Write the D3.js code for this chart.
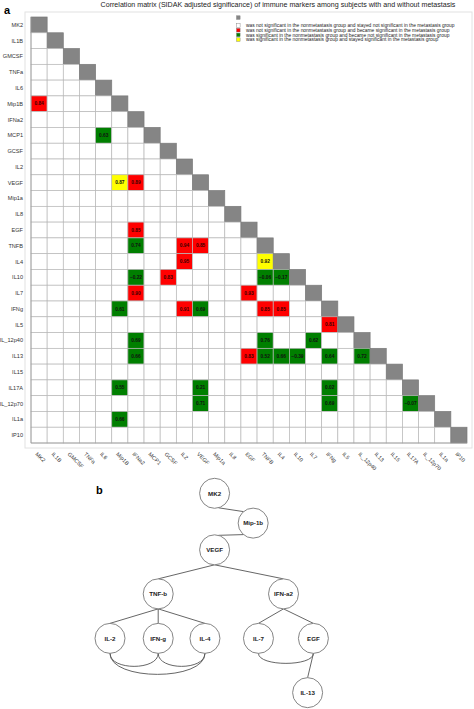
<!DOCTYPE html>
<html>
<head>
<meta charset="utf-8">
<script src="https://cdn.jsdelivr.net/npm/d3@7"></script>
<style>
  body { margin: 0; background: #fff; }
  text { font-family: "Liberation Sans", Arial, sans-serif; }
</style>
</head>
<body>
<svg id="fig" width="474" height="709"></svg>
<script>
// markers in matrix order
var markers = ["MK2","IL1B","GMCSF","TNFa","IL6","Mip1B","IFNa2","MCP1","GCSF","IL2","VEGF",
  "Mip1a","IL8","EGF","TNFB","IL4","IL10","IL7","IFNg","IL5","IL_12p40","IL13","IL15",
  "IL17A","IL_12p70","IL1a","IP10"];

// significant cells: row marker, column marker, correlation, category
var cellRow = ["Mip1B","MCP1","VEGF","VEGF","EGF","TNFB","TNFB","TNFB","IL4","IL4",
  "IL10","IL10","IL10","IL10","IL7","IL7","IFNg","IFNg","IFNg","IFNg","IFNg","IL5",
  "IL_12p40","IL_12p40","IL_12p40","IL13","IL13","IL13","IL13","IL13","IL13","IL13",
  "IL17A","IL17A","IL17A","IL_12p70","IL_12p70","IL_12p70","IL1a"];
var cellCol = ["MK2","IL6","Mip1B","IFNa2","IFNa2","IFNa2","IL2","VEGF","IL2","TNFB",
  "IFNa2","GCSF","TNFB","IL4","IFNa2","EGF","Mip1B","IL2","VEGF","TNFB","IL4","IFNg",
  "IFNa2","TNFB","IL7","IFNa2","EGF","TNFB","IL4","IL10","IFNg","IL_12p40",
  "Mip1B","VEGF","IFNg","VEGF","IFNg","IL17A","Mip1B"];
var cellValue = [0.84,0.63,0.87,0.89,0.85,0.74,0.94,0.85,0.95,0.92,
  -0.22,0.83,-0.06,-0.17,0.90,0.93,0.61,0.91,0.69,0.85,0.85,0.81,
  0.69,0.76,0.62,0.66,0.83,0.52,0.66,-0.39,0.64,0.72,
  0.55,0.21,0.02,0.71,0.69,-0.07,0.66];
var cellType = ["red","green","yellow","red","red","green","red","red","red","yellow",
  "green","red","green","green","red","red","green","red","green","red","red","red",
  "green","green","green","green","red","green","green","green","green","green",
  "green","green","green","green","green","green","green"];

var legendKeys = ["diag","white","red","green","yellow"];
var legendLabels = ["",
  "was not significant in the nonmetastasis group and stayed not significant in the metastasis group",
  "was not significant in the nonmetastasis group and became significant in the metastasis group",
  "was significant in the nonmetastasis group and became not significant in the metastasis group",
  "was significant in the nonmetastasis group and stayed significant in the metastasis group"];

// network (panel b): layout units
var treeNodes = [
  {id:"MK2", gx:2.17, gy:0},
  {id:"Mip-1b", gx:2.97, gy:0.67},
  {id:"VEGF", gx:2.17, gy:1.27},
  {id:"TNF-b", gx:1.0, gy:2.26},
  {id:"IFN-a2", gx:3.6, gy:2.26},
  {id:"IL-2", gx:0, gy:3.26},
  {id:"IFN-g", gx:1.0, gy:3.26},
  {id:"IL-4", gx:1.97, gy:3.26},
  {id:"IL-7", gx:3.08, gy:3.26},
  {id:"EGF", gx:4.22, gy:3.26},
  {id:"IL-13", gx:4.1, gy:4.48}
];
var treeLinks = [
  ["MK2","Mip-1b","side"],["Mip-1b","VEGF","side"],
  ["VEGF","TNF-b","tree"],["VEGF","IFN-a2","tree"],
  ["TNF-b","IL-2","tree"],["TNF-b","IFN-g","tree"],["TNF-b","IL-4","tree"],
  ["IFN-a2","IL-7","tree"],["IFN-a2","EGF","tree"],["EGF","IL-13","tree"],
  ["IL-2","IFN-g","arc"],["IFN-g","IL-4","arc"],["IL-2","IL-4","arcWide"],["IL-7","EGF","arcSmall"]
];

var fills = {diag:"#858585", white:"#ffffff", red:"#ff0000", green:"#007f00", yellow:"#ffff00"};

var svg = d3.select("#fig");

// ---- panel a ----
svg.append("text").attr("x", 4).attr("y", 14).attr("font-size", 11).attr("font-weight", "bold").text("a");
svg.append("text").attr("x", 278).attr("y", 7).attr("text-anchor", "middle")
  .attr("font-size", 7.1).attr("fill", "#222")
  .text("Correlation matrix (SIDAK adjusted significance) of immune markers among subjects with and without metastasis");

svg.append("rect").attr("x", 25).attr("y", 12).attr("width", 447).attr("height", 436)
  .attr("fill", "#fff").attr("stroke", "#e2e2e2").attr("stroke-width", 1);

var x = d3.scaleBand().domain(markers).range([31, 467]);
var y = d3.scaleBand().domain(markers).range([17, 443]);

var lookup = {};
cellRow.forEach(function(r, i) {
  lookup[r + "|" + cellCol[i]] = {v: cellValue[i], t: cellType[i]};
});

var grid = [];
markers.forEach(function(r, i) {
  markers.forEach(function(c, j) {
    if (j > i) return;
    var hit = lookup[r + "|" + c];
    grid.push({r: r, c: c, t: i === j ? "diag" : (hit ? hit.t : "white"), v: hit ? hit.v : null});
  });
});

var g = svg.append("g");
g.selectAll("rect.cell").data(grid).enter().append("rect")
  .attr("class", "cell")
  .attr("x", function(d) { return x(d.c); })
  .attr("y", function(d) { return y(d.r); })
  .attr("width", x.bandwidth())
  .attr("height", y.bandwidth())
  .attr("fill", function(d) { return fills[d.t]; })
  .attr("stroke", function(d) { return d.t === "diag" ? "#7a7a7a" : "#b8b8b8"; })
  .attr("stroke-width", 0.7);

var fmt = d3.format(".2f");
g.selectAll("text.val").data(grid.filter(function(d) { return d.v !== null; })).enter().append("text")
  .attr("class", "val")
  .attr("x", function(d) { return x(d.c) + x.bandwidth() / 2; })
  .attr("y", function(d) { return y(d.r) + y.bandwidth() / 2 + 1.7; })
  .attr("text-anchor", "middle")
  .attr("font-size", 4.8).attr("font-weight", "bold")
  .attr("fill", function(d) { return d.t === "red" ? "#3a0000" : "#111"; })
  .text(function(d) { return fmt(d.v); });

// frame lines
g.append("line").attr("x1", 31).attr("x2", 31).attr("y1", 17).attr("y2", 443).attr("stroke", "#999").attr("stroke-width", 0.8);
g.append("line").attr("x1", 31).attr("x2", 467).attr("y1", 443).attr("y2", 443).attr("stroke", "#999").attr("stroke-width", 0.8);

// row labels
svg.append("g").selectAll("text").data(markers).enter().append("text")
  .attr("x", 23)
  .attr("y", function(d) { return y(d) + y.bandwidth() / 2 + 2; })
  .attr("text-anchor", "end").attr("font-size", 5.6).attr("fill", "#333")
  .text(function(d) { return d; });

// column labels
svg.append("g").selectAll("text").data(markers).enter().append("text")
  .attr("transform", function(d) { return "translate(" + (x(d) + x.bandwidth() / 2 - 4) + ",454.5) rotate(45)"; })
  .attr("font-size", 5.5).attr("fill", "#333")
  .text(function(d) { return d; });

// legend
var leg = svg.append("g").selectAll("g").data(legendKeys).enter().append("g")
  .attr("transform", function(d, i) { return "translate(236.5," + (i === 0 ? 17.6 : 20.8 + i * 4.7) + ")"; });
leg.append("rect").attr("x", 0).attr("y", -1.8).attr("width", 3.6).attr("height", 3.6)
  .attr("fill", function(d) { return fills[d]; }).attr("stroke", "#777").attr("stroke-width", 0.4);
leg.append("text").attr("x", 9.5).attr("y", 1.7).attr("font-size", 4.9).attr("fill", "#222")
  .text(function(d, i) { return legendLabels[i]; });

// ---- panel b ----
svg.append("text").attr("x", 96).attr("y", 494).attr("font-size", 11).attr("font-weight", "bold").text("b");

var tx = d3.scaleLinear().domain([0, 1]).range([110, 158.2]);
var ty = d3.scaleLinear().domain([0, 1]).range([493.3, 537.8]);
var R = 15;
var byId = {};
treeNodes.forEach(function(n) { byId[n.id] = n; n.x = tx(n.gx); n.y = ty(n.gy); });

function onCircle(n, deg) {
  var a = deg * Math.PI / 180;
  return [n.x + R * Math.sin(a), n.y - R * Math.cos(a)];
}

function linkPath(l) {
  var s = byId[l[0]], t = byId[l[1]], p, q, k;
  if (l[2] === "side") {
    p = onCircle(s, l[0] === "MK2" ? 165 : 220);
    q = onCircle(t, l[0] === "MK2" ? 320 : 15);
    return "M" + p + "L" + q;
  }
  if (l[2] === "tree") {
    return "M" + [s.x, s.y + R] + "L" + [t.x, t.y - R];
  }
  k = (l[2] === "arcWide" ? 21 : l[2] === "arcSmall" ? 10 : 13) / 0.75;
  return "M" + [s.x, s.y + R] + "C" + [s.x, s.y + R + k] + " " + [t.x, t.y + R + k] + " " + [t.x, t.y + R];
}

svg.append("g").selectAll("path").data(treeLinks).enter().append("path")
  .attr("d", linkPath).attr("fill", "none").attr("stroke", "#555").attr("stroke-width", 0.9);

var nodes = svg.append("g").selectAll("g").data(treeNodes).enter().append("g")
  .attr("transform", function(d) { return "translate(" + d.x + "," + d.y + ")"; });
nodes.append("circle").attr("r", R).attr("fill", "#fff").attr("stroke", "#777").attr("stroke-width", 0.9);
nodes.append("text").attr("text-anchor", "middle").attr("y", 2.2)
  .attr("font-size", 6.2).attr("font-weight", "bold").attr("fill", "#222")
  .text(function(d) { return d.id; });
</script>
</body>
</html>
